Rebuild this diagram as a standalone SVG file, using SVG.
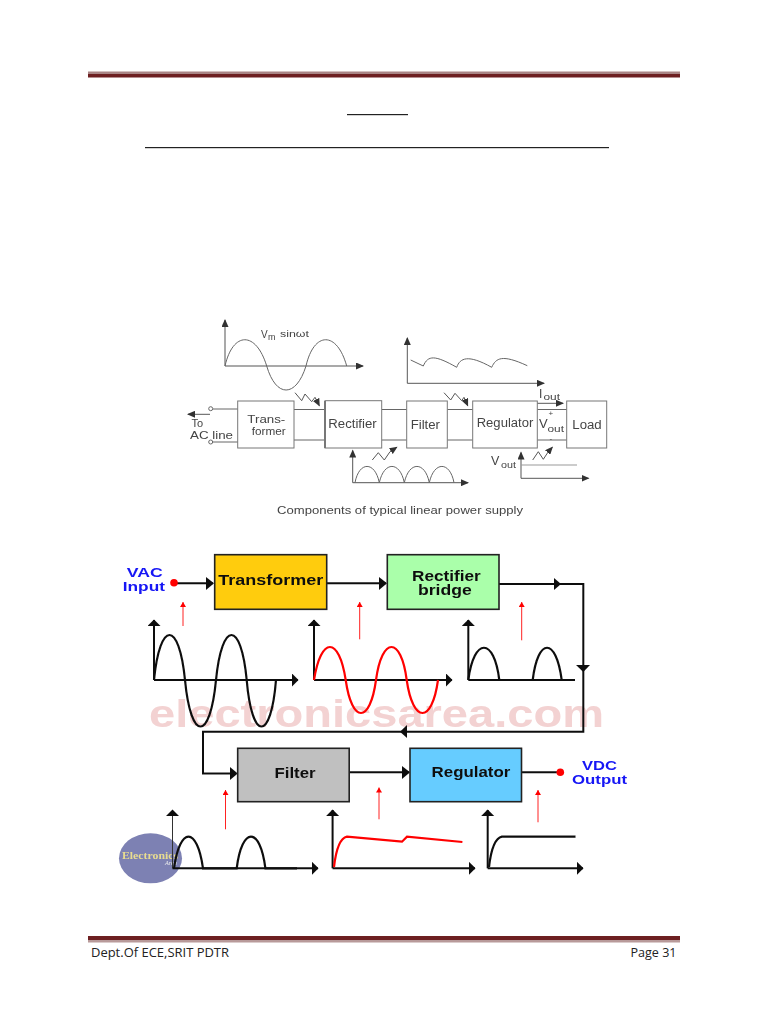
<svg xmlns="http://www.w3.org/2000/svg" width="768" height="1024" viewBox="0 0 768 1024">
<style>
.s{font-family:"Liberation Sans",Arial,sans-serif;fill:#444}
.b{font-family:"Liberation Sans",Arial,sans-serif;font-weight:bold;fill:#111}
.v{font-family:"Liberation Sans",Arial,sans-serif;font-weight:bold;fill:#1515f5}
.f{font-family:"Open Sans","Noto Sans",sans-serif;fill:#222;font-size:13px}
.box1{fill:#fff;stroke:#777;stroke-width:1}
.w1{fill:none;stroke:#666;stroke-width:1}
.ax1{fill:none;stroke:#555;stroke-width:1;marker-end:url(#a1)}
.box2{stroke:#222;stroke-width:1.6}
.w2{fill:none;stroke:#111;stroke-width:2}
.ax2{fill:none;stroke:#111;stroke-width:2;marker-end:url(#a2)}
.wave{fill:none;stroke:#111;stroke-width:2.2}
.red{fill:none;stroke:#f00;stroke-width:2.2}
.ra{fill:none;stroke:#f22;stroke-width:1;marker-end:url(#a3)}
</style>
<defs>
<marker id="a1" markerUnits="userSpaceOnUse" markerWidth="9" markerHeight="7" refX="7" refY="3.5" orient="auto"><path d="M0 0L8 3.500L0 7z" fill="#333"/></marker>
<marker id="a2" markerUnits="userSpaceOnUse" markerWidth="14" markerHeight="14" refX="6" refY="6.5" orient="auto"><path d="M0 0L6.500 6.500L0 13z" fill="#111"/></marker>
<marker id="a3" markerUnits="userSpaceOnUse" markerWidth="8" markerHeight="6" refX="5" refY="3" orient="auto"><path d="M0 0L5 3L0 6z" fill="#f00"/></marker>
<filter id="soft" x="-5%" y="-5%" width="110%" height="110%"><feGaussianBlur stdDeviation="0.45"/></filter>
</defs>
<rect width="768" height="1024" fill="#fff"/>
<g id="header">
<rect x="88" y="71.500" width="592" height="2.500" fill="#a98585"/>
<rect x="88" y="74" width="592" height="3.500" fill="#6d1f21"/>
<rect x="347" y="114" width="61" height="1.200" fill="#222"/>
<rect x="145" y="147" width="464" height="1.200" fill="#222"/>
</g>
<g id="watermark" filter="url(#soft)">
<text x="149" y="727" font-family="Liberation Sans,Arial,sans-serif" font-weight="bold" font-size="38" fill="#f3d2d2" textLength="455" lengthAdjust="spacingAndGlyphs">electronicsarea.com</text>
</g>
<g filter="url(#soft)">
<g id="connectors-top">
<path class="w1" d="M213 409H238M213 442H238M294 409.500H325M294 440H325M381.700 409.500H406.700M381.700 440H406.700M447.300 409.500H472.700M447.300 440H472.700M537.300 409.500H566.700M537.300 440H566.700"/>
<path class="ax1" d="M210 414.300H188"/>
<path class="ax1" d="M537 403.300H563"/>
<path class="ax1" d="M295 392.700L301.700 400.700L305 394L311.700 401.700L315 397.300L319.300 405.700"/>
<path class="ax1" d="M444 392.700L450.700 400L455 393.300L461.700 400.700L464 397.300L467.700 405.700"/>
<path class="ax1" d="M372.300 460L378.300 452.700L384.300 460L390 451.700L396.700 447.300"/>
<path class="ax1" d="M532.700 460L538.300 451.700L543.300 459.300L548.300 451.700L552.300 447.300"/>
<circle cx="210.700" cy="408.700" r="2" fill="#fff" stroke="#666"/>
<circle cx="210.700" cy="442" r="2" fill="#fff" stroke="#666"/>
</g>
<g id="graph-sine"><path class="ax1" d="M225 366V320"/><path class="ax1" d="M225 366H363"/><path class="w1" d="M225 366C233 331 256 331 266.700 366C276 398 296 398 306 366C314 331 337 331 346.700 366"/>
<text class="s" x="261" y="338" font-size="10">V</text><text class="s" x="268" y="340" font-size="9">m</text><text class="s" x="280" y="337" font-size="9" textLength="29" lengthAdjust="spacingAndGlyphs">sinωt</text></g>
<g id="graph-ripple"><path class="ax1" d="M407.300 383.300V338"/><path class="ax1" d="M407.300 383.300H544"/><path class="w1" d="M410.700 360L423.300 366C428 355 435 355 456.700 367.300C460 358 468 354 491.700 367.300C496 358 502 354 527.300 365.700"/></g>
<g id="graph-arches"><path class="ax1" d="M352.700 482.700V450.500"/><path class="ax1" d="M352.700 482.700H468"/><path class="w1" d="M355 482.700C359 461 375 461 379.300 482.700C384 461 400 461 404.300 482.700C409 461 425 461 429.300 482.700C434 461 450 461 454 482.700"/></g>
<g id="graph-dc"><path class="ax1" d="M521 478.300V452.500"/><path class="ax1" d="M521 478.300H588.500"/><path d="M521 465H577" stroke="#999" stroke-width="1"/></g>
<g id="t-transformer"><rect class="box1" x="237.700" y="401" width="56.300" height="47"/><text class="s" x="247.300" y="422.500" font-size="11" textLength="38" lengthAdjust="spacingAndGlyphs">Trans-</text><text class="s" x="251.700" y="435" font-size="11" textLength="34" lengthAdjust="spacingAndGlyphs">former</text></g>
<g id="t-rectifier"><rect class="box1" x="325" y="400.700" width="56.700" height="47.300"/><path d="M325 401V448" stroke="#777" stroke-width="2"/><text class="s" x="328.300" y="428.300" font-size="12.500" textLength="48.400" lengthAdjust="spacingAndGlyphs">Rectifier</text></g>
<g id="t-filter"><rect class="box1" x="406.700" y="401" width="40.600" height="47"/><text class="s" x="410.700" y="429" font-size="12.500" textLength="29.300" lengthAdjust="spacingAndGlyphs">Filter</text></g>
<g id="t-regulator"><rect class="box1" x="472.700" y="401" width="64.600" height="47"/><text class="s" x="476.700" y="427.300" font-size="12.500" textLength="56.600" lengthAdjust="spacingAndGlyphs">Regulator</text></g>
<g id="t-load"><rect class="box1" x="566.700" y="401" width="40" height="47"/><text class="s" x="572.300" y="429.300" font-size="12.500" textLength="29.400" lengthAdjust="spacingAndGlyphs">Load</text></g>
<g id="t-labels">
<text class="s" x="191.500" y="426.500" font-size="11">To</text>
<text class="s" x="190" y="439" font-size="11" textLength="43" lengthAdjust="spacingAndGlyphs">AC line</text>
<text class="s" x="539" y="397.700" font-size="12">I</text><text class="s" x="543.500" y="400" font-size="9.500" textLength="16.500" lengthAdjust="spacingAndGlyphs">out</text>
<text class="s" x="548.500" y="416" font-size="8">+</text>
<text class="s" x="539" y="428" font-size="13">V</text><text class="s" x="547.500" y="432" font-size="9.500" textLength="16.500" lengthAdjust="spacingAndGlyphs">out</text>
<text class="s" x="549.500" y="441" font-size="8">-</text>
<text class="s" x="491" y="465" font-size="12.500">V</text><text class="s" x="501" y="468" font-size="9.500" textLength="15" lengthAdjust="spacingAndGlyphs">out</text>
<text class="s" x="277" y="514" font-size="10.500" textLength="246" lengthAdjust="spacingAndGlyphs">Components of typical linear power supply</text>
</g>
</g>
<g filter="url(#soft)">
<g id="connectors">
<path class="w2" d="M174 583.300H213"/><path d="M206 577L214 583.300L206 590z" fill="#111"/>
<path class="w2" d="M326.700 583.300H386"/><path d="M379 577L387 583.300L379 590z" fill="#111"/>
<path class="w2" d="M499 584H583.300V731.700H203V773.500H236"/>
<path d="M554 578L561 584L554 590z" fill="#111"/>
<path d="M576 665H590L583.300 672z" fill="#111"/>
<path d="M407 725L400 731.700L407 738z" fill="#111"/>
<path d="M230 767L237.700 773.500L230 780z" fill="#111"/>
<path class="w2" d="M349.200 772.300H409"/><path d="M402 766L410 772.300L402 779z" fill="#111"/>
<path class="w2" d="M521.500 772.300H560"/>
<circle cx="174" cy="582.700" r="3.800" fill="#f00"/>
<circle cx="560.300" cy="772.300" r="3.800" fill="#f00"/>
<path class="ra" d="M183 626V602"/><path class="ra" d="M359.700 639.300V602"/><path class="ra" d="M521.700 640.300V602"/>
<path class="ra" d="M225.500 829.300V790"/><path class="ra" d="M379 819.300V787.500"/><path class="ra" d="M538 822.300V790"/>
</g>
<g id="transformer"><rect class="box2" x="214.700" y="554.700" width="112" height="54.600" fill="#ffcc0e"/><text class="b" x="218.300" y="585" font-size="15" textLength="105" lengthAdjust="spacingAndGlyphs">Transformer</text></g>
<g id="rectifier"><rect class="box2" x="387.300" y="554.700" width="111.700" height="54.600" fill="#aaffaa"/><text class="b" x="412" y="580.700" font-size="14" textLength="68.700" lengthAdjust="spacingAndGlyphs">Rectifier</text><text class="b" x="418" y="595" font-size="14" textLength="53.700" lengthAdjust="spacingAndGlyphs">bridge</text></g>
<g id="filter"><rect class="box2" x="237.700" y="748.300" width="111.500" height="53.400" fill="#c0c0c0"/><text class="b" x="274.500" y="778.300" font-size="14" textLength="41" lengthAdjust="spacingAndGlyphs">Filter</text></g>
<g id="regulator"><rect class="box2" x="410" y="748.300" width="111.500" height="53.400" fill="#66ccff"/><text class="b" x="431.600" y="777.300" font-size="14" textLength="78.700" lengthAdjust="spacingAndGlyphs">Regulator</text></g>
<g id="labels">
<text class="v" x="126.700" y="577" font-size="13.500" textLength="36" lengthAdjust="spacingAndGlyphs">VAC</text>
<text class="v" x="122.700" y="590.700" font-size="13.500" textLength="42.300" lengthAdjust="spacingAndGlyphs">Input</text>
<text class="v" x="582" y="770" font-size="12.500" textLength="35" lengthAdjust="spacingAndGlyphs">VDC</text>
<text class="v" x="572" y="784" font-size="12.500" textLength="55" lengthAdjust="spacingAndGlyphs">Output</text>
</g>
<g id="wave1"><path class="ax2" d="M154 680V620"/><path class="ax2" d="M154 680H298"/><path class="wave" d="M154 680C160 620 179 620 185 680C191 742 210 742 216 680C222 620 241 620 246.700 680C252 742 271 742 276 680"/></g>
<g id="wave2"><path class="ax2" d="M314 680V620"/><path class="ax2" d="M314 680H452"/><path class="red" d="M314 680C321 636 339 636 345.700 680C352 724 370 724 376 680C382 636 401 636 406.700 680C413 724 432 724 438 680"/></g>
<g id="wave3"><path class="ax2" d="M468.300 680V620"/><path class="wave" d="M468.300 680H575"/><path class="wave" d="M468.300 680C474 637 494 637 499.300 680M532.700 680C538 637 556 637 561.700 680"/></g>
<g id="logo"><ellipse cx="150.500" cy="858.300" rx="31.500" ry="25" fill="#7d81b3"/><text x="122" y="858.500" font-family="Liberation Serif,serif" font-weight="bold" font-size="11" fill="#e8dc90" textLength="56" lengthAdjust="spacingAndGlyphs">Electronics</text><text x="165" y="864.500" font-family="Liberation Serif,serif" font-style="italic" font-size="6" fill="#eee" textLength="12" lengthAdjust="spacingAndGlyphs">Area</text></g>
<g id="wave4"><path d="M172.500 868.300V810" stroke="#333" stroke-width="1" fill="none" marker-end="url(#a2)"/><path class="ax2" d="M172.500 868.300H318"/><path class="wave" d="M174 868.300C180 826 197 826 203 868.300H236.700C242 826 260 826 265.400 868.300H297"/></g>
<g id="wave5"><path class="ax2" d="M332.600 868.300V810"/><path class="ax2" d="M332.600 868.300H475"/><path class="red" d="M334 867C336 850 340 838 347 836.700L402 841.700L407 836.700L462.400 842"/></g>
<g id="wave6"><path class="ax2" d="M487.700 868.300V810"/><path class="ax2" d="M487.700 868.300H583"/><path class="wave" d="M489 867C491 850 495 838 502 836.700H575.500"/></g>
</g>
<g id="footer">
<rect x="88" y="936" width="592" height="4" fill="#6d1f21"/>
<rect x="88" y="940" width="592" height="2.500" fill="#b89a9a"/>
<text class="f" x="91" y="956.700" textLength="138" lengthAdjust="spacingAndGlyphs">Dept.Of ECE,SRIT PDTR</text>
<text class="f" x="630.500" y="956.700" textLength="46" lengthAdjust="spacingAndGlyphs">Page 31</text>
</g>
</svg>
